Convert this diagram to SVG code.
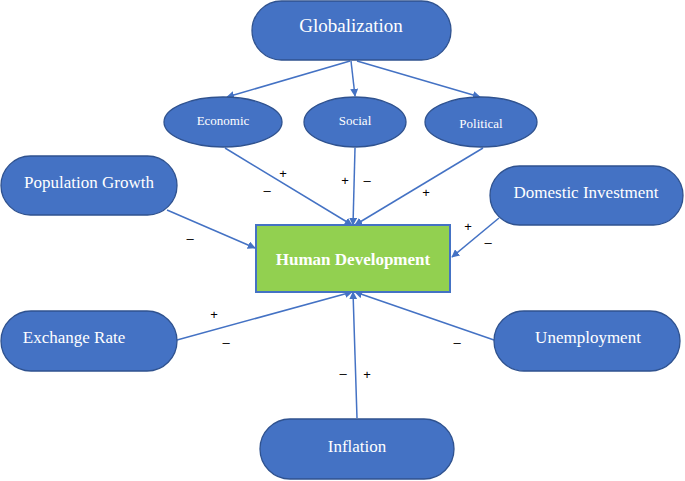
<svg xmlns="http://www.w3.org/2000/svg" width="685" height="481" viewBox="0 0 685 481">
<style>
.n{fill:#4472C4;stroke:#2F528F;stroke-width:1.3}
.t{font-family:'Liberation Serif',serif;fill:#fff;font-size:17px;text-anchor:middle}
.s{font-size:13px}
.c line{stroke:#4472C4;stroke-width:1.5;marker-end:url(#a)}
.g{font-family:'Liberation Sans',sans-serif;font-size:13px;fill:#000;text-anchor:middle}
</style>
<defs>
<marker id="a" viewBox="0 0 10 10" refX="9" refY="5" markerWidth="8" markerHeight="8" markerUnits="userSpaceOnUse" orient="auto"><path d="M0,0L10,5L0,10z" fill="#4472C4"/></marker>
</defs>
<rect width="685" height="481" fill="#fff"/>
<g class="c" id="connectors">
<line x1="350" y1="61" x2="227" y2="97"/>
<line x1="351" y1="61" x2="355" y2="96"/>
<line x1="357" y1="61" x2="480" y2="97"/>
<line x1="225" y1="148" x2="352" y2="225"/>
<line x1="355" y1="148" x2="353" y2="225"/>
<line x1="483" y1="148" x2="355" y2="225"/>
<line x1="167" y1="210" x2="255" y2="248"/>
<line x1="499" y1="218" x2="452" y2="257"/>
<line x1="177" y1="340" x2="352" y2="292"/>
<line x1="357" y1="418" x2="353" y2="292"/>
<line x1="494" y1="340" x2="355" y2="292"/>
</g>
<g id="globalization"><rect class="n" x="252" y="1" width="199" height="59" rx="29.5"/><text class="t" x="351" y="32" font-family="Liberation Serif, serif" style="font-size:19px">Globalization</text></g>
<g id="economic"><ellipse class="n" cx="223" cy="122" rx="59" ry="25"/><text class="t s" x="223" y="125">Economic</text></g>
<g id="social"><ellipse class="n" cx="355" cy="122" rx="51" ry="25"/><text class="t s" x="355" y="125">Social</text></g>
<g id="political"><ellipse class="n" cx="481" cy="122" rx="56" ry="25"/><text class="t s" x="481" y="128">Political</text></g>
<g id="population-growth"><rect class="n" x="1" y="156" width="176" height="59" rx="29.5"/><text class="t" x="89" y="188">Population Growth</text></g>
<g id="domestic-investment"><rect class="n" x="490" y="166" width="193" height="59" rx="29.5"/><text class="t" x="586" y="198">Domestic Investment</text></g>
<g id="human-development"><rect x="256" y="225" width="194" height="67" fill="#92D050" stroke="#4472C4" stroke-width="2"/><text class="t" x="353" y="265" font-weight="bold">Human Development</text></g>
<g id="exchange-rate"><rect class="n" x="1" y="311" width="176" height="60" rx="30"/><text class="t" x="74" y="343">Exchange Rate</text></g>
<g id="unemployment"><rect class="n" x="494" y="311" width="186" height="60" rx="30"/><text class="t" x="588" y="343">Unemployment</text></g>
<g id="inflation"><rect class="n" x="260" y="419" width="194" height="60" rx="30"/><text class="t" x="357" y="452">Inflation</text></g>
<g id="signs">
<text class="g" x="283" y="178">+</text><text class="g" x="267" y="195">–</text>
<text class="g" x="345" y="185">+</text><text class="g" x="367" y="185">–</text>
<text class="g" x="426" y="197">+</text>
<text class="g" x="190" y="243">–</text>
<text class="g" x="468" y="231">+</text><text class="g" x="488" y="247">–</text>
<text class="g" x="214" y="319">+</text><text class="g" x="226" y="347">–</text>
<text class="g" x="457" y="347">–</text>
<text class="g" x="343" y="378">–</text><text class="g" x="367" y="379">+</text>
</g>
</svg>
